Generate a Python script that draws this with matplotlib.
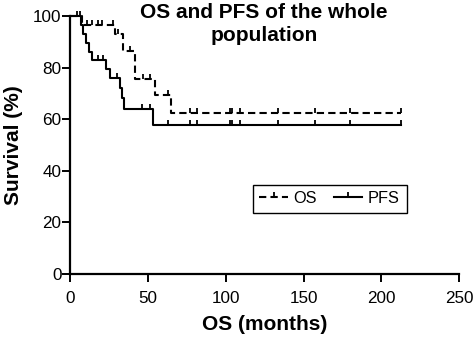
import numpy as np
import matplotlib
matplotlib.use("Agg")
import matplotlib.pyplot as plt
from matplotlib.path import Path
from matplotlib.lines import Line2D

plt.rcParams['font.family'] = ['Liberation Sans', 'DejaVu Sans']

# OS curve: times where survival drops, and level after each drop (%)
os_times = [0, 7.2, 28.6, 34.0, 41.5, 54.3, 65.0]
os_surv = [100, 96.5, 93.2, 86.6, 75.6, 69.3, 62.4]
os_censor = [4.4, 6.1, 10.4, 13.6, 17.9, 20.0, 27.5, 30.7, 38.3, 46.8, 51.1,
             62.9, 76.8, 81.2, 102.6, 103.7, 109.0, 133.6, 157.2, 179.7, 213.0]

# PFS curve
pfs_times = [0, 6.5, 8.3, 10.2, 12.0, 14.0, 23.0, 25.5, 31.8, 33.0, 34.3, 53.2]
pfs_surv = [100, 96.6, 93.1, 89.7, 86.2, 82.8, 79.3, 75.8, 72.1, 68.2, 64.0, 57.6]
pfs_censor = [17.7, 20.9, 29.7, 45.8, 51.0, 62.9, 76.8, 81.2, 102.6, 103.7,
              109.0, 133.6, 157.2, 179.7, 213.0]

t_end = 213.0

# upward censor tick
tick = Path([(0, 0), (0, 1)], [Path.MOVETO, Path.LINETO])


def level_at(times, surv, t):
    i = np.searchsorted(times, t, side='right') - 1
    return np.array(surv)[i]


fig = plt.figure(figsize=(4.74, 3.38), dpi=100)
ax = fig.add_axes([0.1487, 0.189, 0.8196, 0.7637])

lw = 1.5
dash = (3.5, 2)

x = os_times + [t_end]
y = os_surv + [os_surv[-1]]
ax.step(x, y, where='post', color='k', lw=lw, dashes=dash, clip_on=False)
ax.plot(os_censor, level_at(os_times, os_surv, os_censor), ls='none',
        marker=tick, ms=7.5, mew=1.3, color='k', clip_on=False)

x = pfs_times + [t_end]
y = pfs_surv + [pfs_surv[-1]]
ax.step(x, y, where='post', color='k', lw=lw, clip_on=False)
ax.plot(pfs_censor, level_at(pfs_times, pfs_surv, pfs_censor), ls='none',
        marker=tick, ms=7.5, mew=1.3, color='k', clip_on=False)

ax.set_xlim(0, 250)
ax.set_ylim(0, 100)
ax.set_xticks(np.arange(0, 251, 50))
ax.set_yticks(np.arange(0, 101, 20))
for s in ['top', 'right']:
    ax.spines[s].set_visible(False)
for s in ['left', 'bottom']:
    ax.spines[s].set_linewidth(1.6)
ax.tick_params(direction='out', length=5.5, width=1.4, labelsize=12.3)
ax.tick_params(axis='y', pad=1)
ax.tick_params(axis='x', pad=7)

ax.set_xlabel("OS (months)", fontsize=15, fontweight='bold', labelpad=6)
ax.set_ylabel("Survival (%)", fontsize=15, fontweight='bold', labelpad=7)

fig.text(0.557, 0.992, "OS and PFS of the whole\npopulation", ha='center', va='top',
         fontsize=15, fontweight='bold', linespacing=1.3)

handles = [
    Line2D([], [], color='k', lw=lw, dashes=dash, marker=tick, ms=7.5, mew=1.3),
    Line2D([], [], color='k', lw=lw, marker=tick, ms=7.5, mew=1.3),
]
leg = ax.legend(handles, ["OS", "PFS"], ncol=2, numpoints=1, fontsize=11.8,
                loc='lower left', bbox_to_anchor=(0.469, 0.2376, 0.396, 0.117),
                mode='expand', fancybox=False, framealpha=1, edgecolor='k',
                handlelength=1.75, handletextpad=0.35, columnspacing=0.9,
                borderpad=0.4, borderaxespad=0)
leg.get_frame().set_linewidth(1.0)

fig.savefig("out.png", dpi=100)
